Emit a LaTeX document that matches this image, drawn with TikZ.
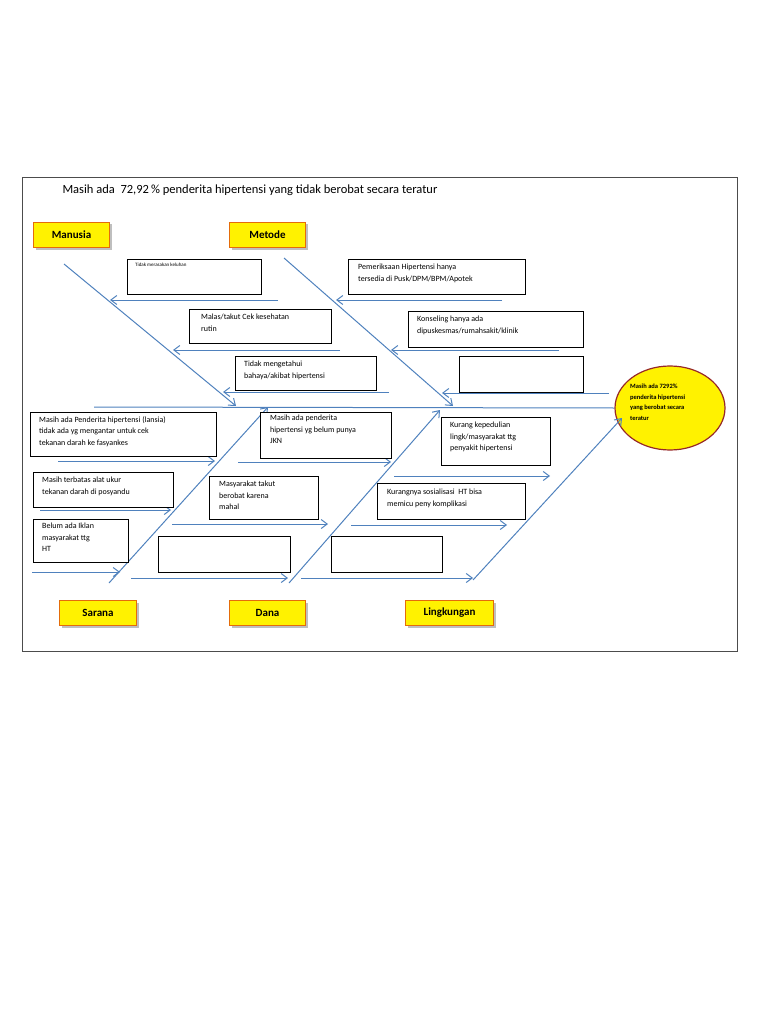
\documentclass[tikz,border=0pt]{standalone}
\usepackage{fontspec}
\setmainfont{Carlito}
\usetikzlibrary{arrows.meta,shadows,shapes.geometric}

\definecolor{boneblue}{RGB}{79,129,189}
\definecolor{catborder}{RGB}{228,108,10}
\definecolor{causered}{RGB}{150,40,40}

\tikzset{
    bone/.style={draw=boneblue, line width=1pt, -{Straight Barb[length=6pt,width=9pt]}},
    cat/.style={draw=catborder, fill=yellow, line width=1pt, font=\bfseries\fontsize{11}{13}\selectfont,
        minimum width=76pt, minimum height=25pt, anchor=north west, drop shadow={shadow xshift=2pt,shadow yshift=-2pt,fill=black!50}},
    box/.style={draw=black, line width=0.8pt, fill=white, anchor=north west, inner sep=0pt},
    txt/.style={anchor=north west, align=left, font=\fontsize{8}{11.5}\selectfont, inner sep=0pt}
}

\begin{document}
\begin{tikzpicture}[x=1pt,y=-1pt]
    \useasboundingbox (0,0) rectangle (768,1024);
    \draw[black!70, line width=0.8pt] (22,177) rectangle (737,651);

    \node[anchor=west, font=\fontsize{12.5}{14}\selectfont] (title) at (59,190)
        {Masih ada~ 72,92\,\% penderita hipertensi yang tidak berobat secara teratur};

    % categories
    \node[cat] (manusia) at (33,222) {Manusia};
    \node[cat] (metode) at (229,222) {Metode};
    \node[cat, minimum width=77pt] (sarana) at (59,600) {Sarana};
    \node[cat] (dana) at (229,600) {Dana};
    \node[cat, minimum width=88pt] (lingkungan) at (405,600) {Lingkungan};

    % head
    \node[ellipse, draw=causered, fill=yellow, line width=1.2pt, minimum width=110pt, minimum height=84pt] (head) at (670,408) {};
    \node[txt, font=\bfseries\fontsize{6.5}{10.5}\selectfont] (headtxt) at (630,384)
        {Masih ada 7292\%\\penderita hipertensi\\yang berobat secara\\teratur};

    % spine and main bones
    \coordinate (spine) at (94,407);
    \draw[boneblue, line width=1pt] (spine) -- (head.west);
    \coordinate (m0) at (64,264);  \coordinate (m1) at (236,406);
    \coordinate (t0) at (284,258); \coordinate (t1) at (453,406);
    \coordinate (s0) at (109,583); \coordinate (s1) at (268,407);
    \coordinate (d0) at (289,583); \coordinate (d1) at (440,410);
    \coordinate (l0) at (473,580); \coordinate (l1) at (622,418);
    \foreach \a in {m,t,s,d,l}
        \draw[bone] (\a0) -- (\a1);

    % small bones
    \foreach \n/\xa/\xb/\y in {1/278/110/300, 2/340/173/350, 3/389/223/392,
                               4/502/336/300, 5/559/391/350, 6/609/442/393,
                               7/58/215/461, 8/40/171/510, 9/32/120/572,
                               10/238/391/462, 11/172/328/524, 12/131/288/578,
                               13/394/550/476, 14/351/507/525, 15/301/473/578} {
        \coordinate (c\n a) at (\xa,\y);
        \coordinate (c\n b) at (\xb,\y);
        \draw[bone] (c\n a) -- (c\n b);
    }

    % cause boxes
    \foreach \n/\x/\y/\w/\h in {1/127/259/134/35, 2/189/309/142/34, 3/235/356/141/34,
                                4/348/259/177/35, 5/408/311/175/36, 6/459/356/124/36,
                                7/30/412/186/44, 8/33/472/140/35, 9/33/519/95/43,
                                10/260/412/131/46, 11/209/476/109/43, 12/158/536/132/36,
                                13/441/417/109/48, 14/377/483/148/36, 15/331/536/111/36}
        \node[box, minimum width=\w pt, minimum height=\h pt] (b\n) at (\x,\y) {};

    \node[txt, font=\fontsize{5}{6}\selectfont] (t1) at ([shift={(8,4)}]b1.north west) {Tidak merasakan keluhan};
    \node[txt] (t2) at ([shift={(12,5)}]b2.north west) {Malas/takut Cek kesehatan\\rutin};
    \node[txt] (t3) at ([shift={(9,5)}]b3.north west) {Tidak mengetahui\\bahaya/akibat hipertensi};
    \node[txt] (t4) at ([shift={(10,5)}]b4.north west) {Pemeriksaan Hipertensi hanya\\tersedia di Pusk/DPM/BPM/Apotek};
    \node[txt] (t5) at ([shift={(9,5)}]b5.north west) {Konseling hanya ada\\dipuskesmas/rumahsakit/klinik};
    \node[txt] (t7) at ([shift={(9,4)}]b7.north west) {Masih ada Penderita hipertensi (lansia)\\tidak ada yg mengantar untuk cek\\tekanan darah ke fasyankes};
    \node[txt] (t8) at ([shift={(9,5)}]b8.north west) {Masih terbatas alat ukur\\tekanan darah di posyandu};
    \node[txt] (t9) at ([shift={(9,4)}]b9.north west) {Belum ada Iklan\\masyarakat ttg\\HT};
    \node[txt] (t10) at ([shift={(10,3)}]b10.north west) {Masih ada penderita\\hipertensi yg belum punya\\JKN};
    \node[txt] (t11) at ([shift={(10,5)}]b11.north west) {Masyarakat takut\\berobat karena\\mahal};
    \node[txt] (t13) at ([shift={(9,5)}]b13.north west) {Kurang kepedulian\\lingk/masyarakat ttg\\penyakit hipertensi};
    \node[txt] (t14) at ([shift={(10,6)}]b14.north west) {Kurangnya sosialisasi~ HT bisa\\memicu peny komplikasi};
\end{tikzpicture}
\end{document}
